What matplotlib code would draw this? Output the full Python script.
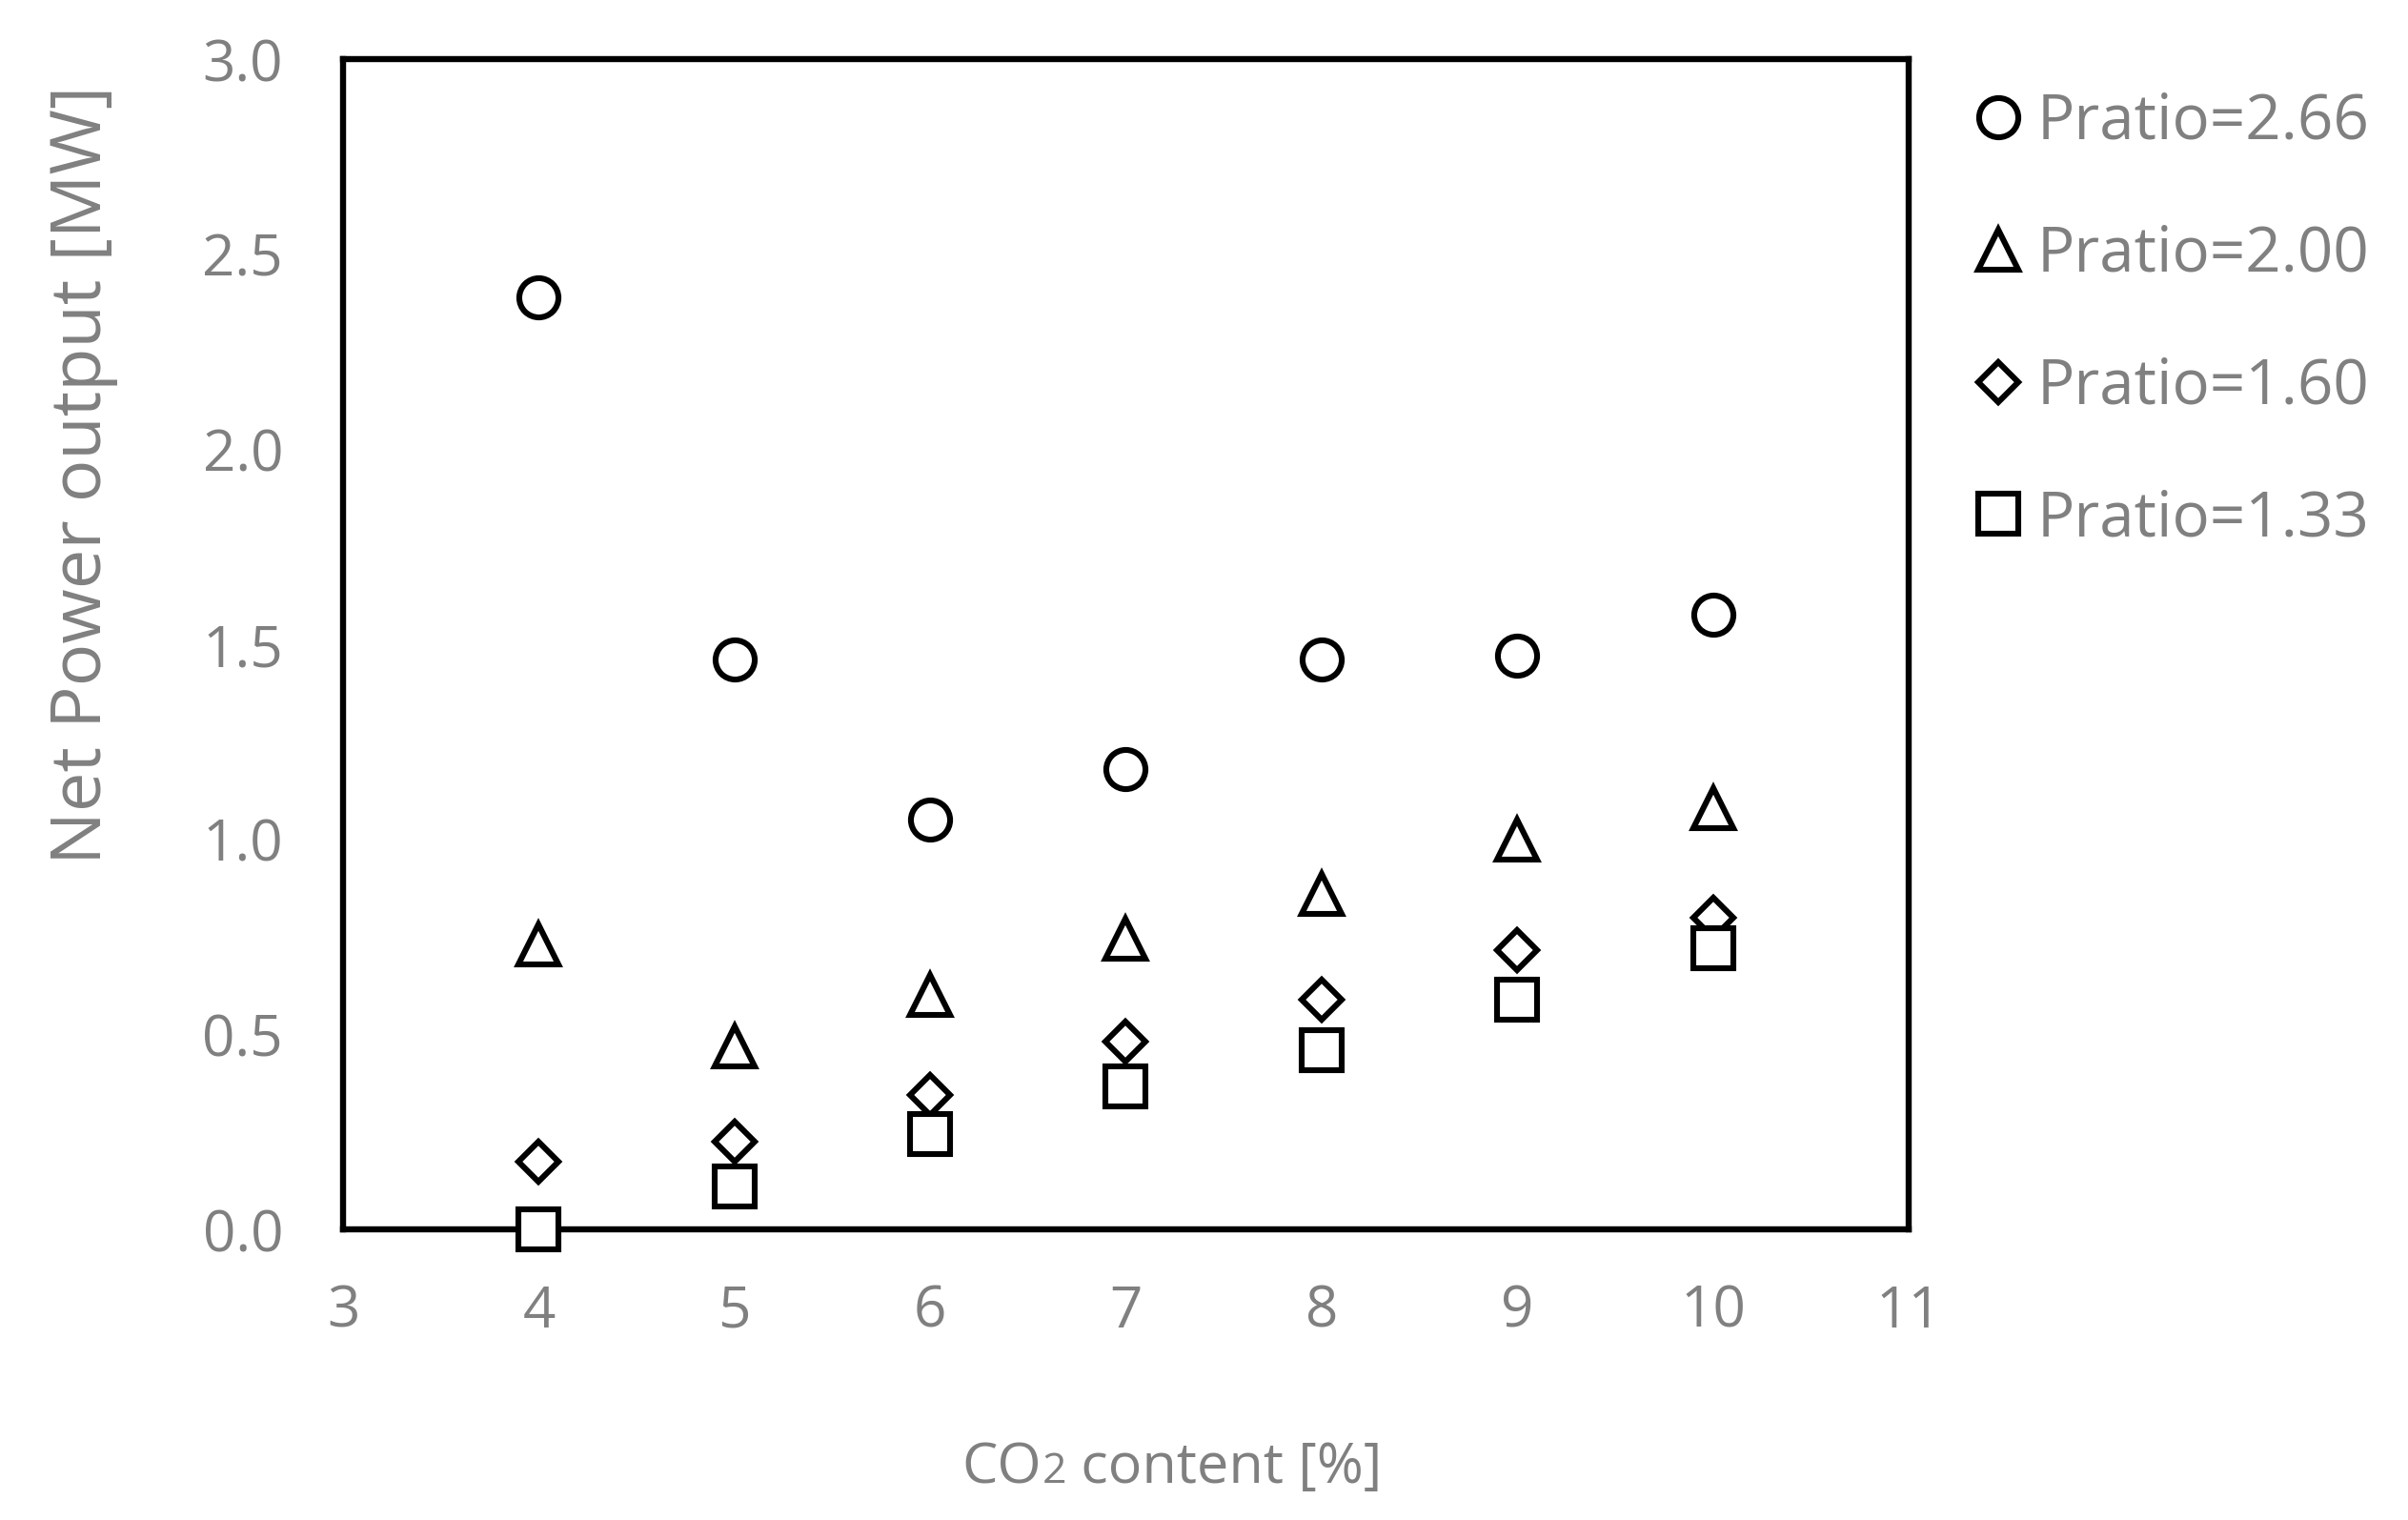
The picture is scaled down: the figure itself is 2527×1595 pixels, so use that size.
import matplotlib
matplotlib.use('Agg')
import matplotlib.pyplot as plt
from matplotlib.offsetbox import TextArea, HPacker, AnnotationBbox

# ── data ────────────────────────────────────────────────────────────────
co2 = [4, 5, 6, 7, 8, 9, 10]
p_266 = [2.39, 1.46, 1.05, 1.18, 1.46, 1.47, 1.575]
p_200 = [0.73, 0.47, 0.60, 0.745, 0.86, 1.00, 1.08]
p_160 = [0.174, 0.226, 0.345, 0.481, 0.588, 0.717, 0.80]
p_133 = [0.0, 0.11, 0.245, 0.367, 0.46, 0.59, 0.72]
labels = ["Pratio=2.66", "Pratio=2.00", "Pratio=1.60", "Pratio=1.33"]

GREY = "#808080"
FONT = "Open Sans"
plt.rcParams['font.family'] = [FONT, 'DejaVu Sans']

fig = plt.figure(figsize=(12.635, 7.975), dpi=200)
ax = fig.add_axes([0.1425, 0.1912, 0.6501, 0.7699])

series = [(p_266, 'o', 14.8), (p_200, '^', 14.8), (p_160, 'D', 10.6), (p_133, 's', 14.8)]
for (vals, mk, ms), lab in zip(series, labels):
    ax.plot(co2, vals, linestyle='none', marker=mk, markersize=ms,
            markerfacecolor='white', markeredgecolor='black',
            markeredgewidth=2.2, clip_on=False, zorder=5, label=lab)

ax.set_xlim(3, 11)
ax.set_ylim(0, 3.0)
ax.set_xticks(range(3, 12))
ax.set_yticks([0, 0.5, 1.0, 1.5, 2.0, 2.5, 3.0])
ax.set_yticklabels([f"{v:.1f}" for v in ax.get_yticks()])

for sp in ax.spines.values():
    sp.set_linewidth(2.3)
    sp.set_color('black')
ax.tick_params(axis='both', length=0, labelsize=21.7, labelcolor=GREY)
ax.tick_params(axis='y', pad=22.7)
ax.tick_params(axis='x', pad=20.5)

ax.set_ylabel("Net Power output [MW]", fontsize=26.7, color=GREY, va='center')
ax.yaxis.set_label_coords(-0.166, 0.645)

# x label with a baseline-aligned small "2"
big = dict(fontsize=21.4, color=GREY, family=FONT)
small = dict(fontsize=16, color=GREY, family=FONT)
xl = HPacker(children=[TextArea("CO", textprops=big),
                       TextArea("2", textprops=small),
                       TextArea(" content [%]", textprops=big)],
             align="baseline", pad=0, sep=0)
ab = AnnotationBbox(xl, (0.4867, 0.0339), xycoords='figure fraction',
                    box_alignment=(0.5, 0.5), frameon=False)
fig.add_artist(ab)

leg = ax.legend(loc='upper left', bbox_to_anchor=(2071 / 2527, 1 - 96 / 1595),
                bbox_transform=fig.transFigure, frameon=False, borderpad=0,
                borderaxespad=0, handlelength=0.8, handletextpad=0.22,
                labelspacing=1.11, prop={'family': FONT, 'size': 23.6})
for t in leg.get_texts():
    t.set_color(GREY)

fig.savefig("out.png", dpi=200, facecolor='white')
